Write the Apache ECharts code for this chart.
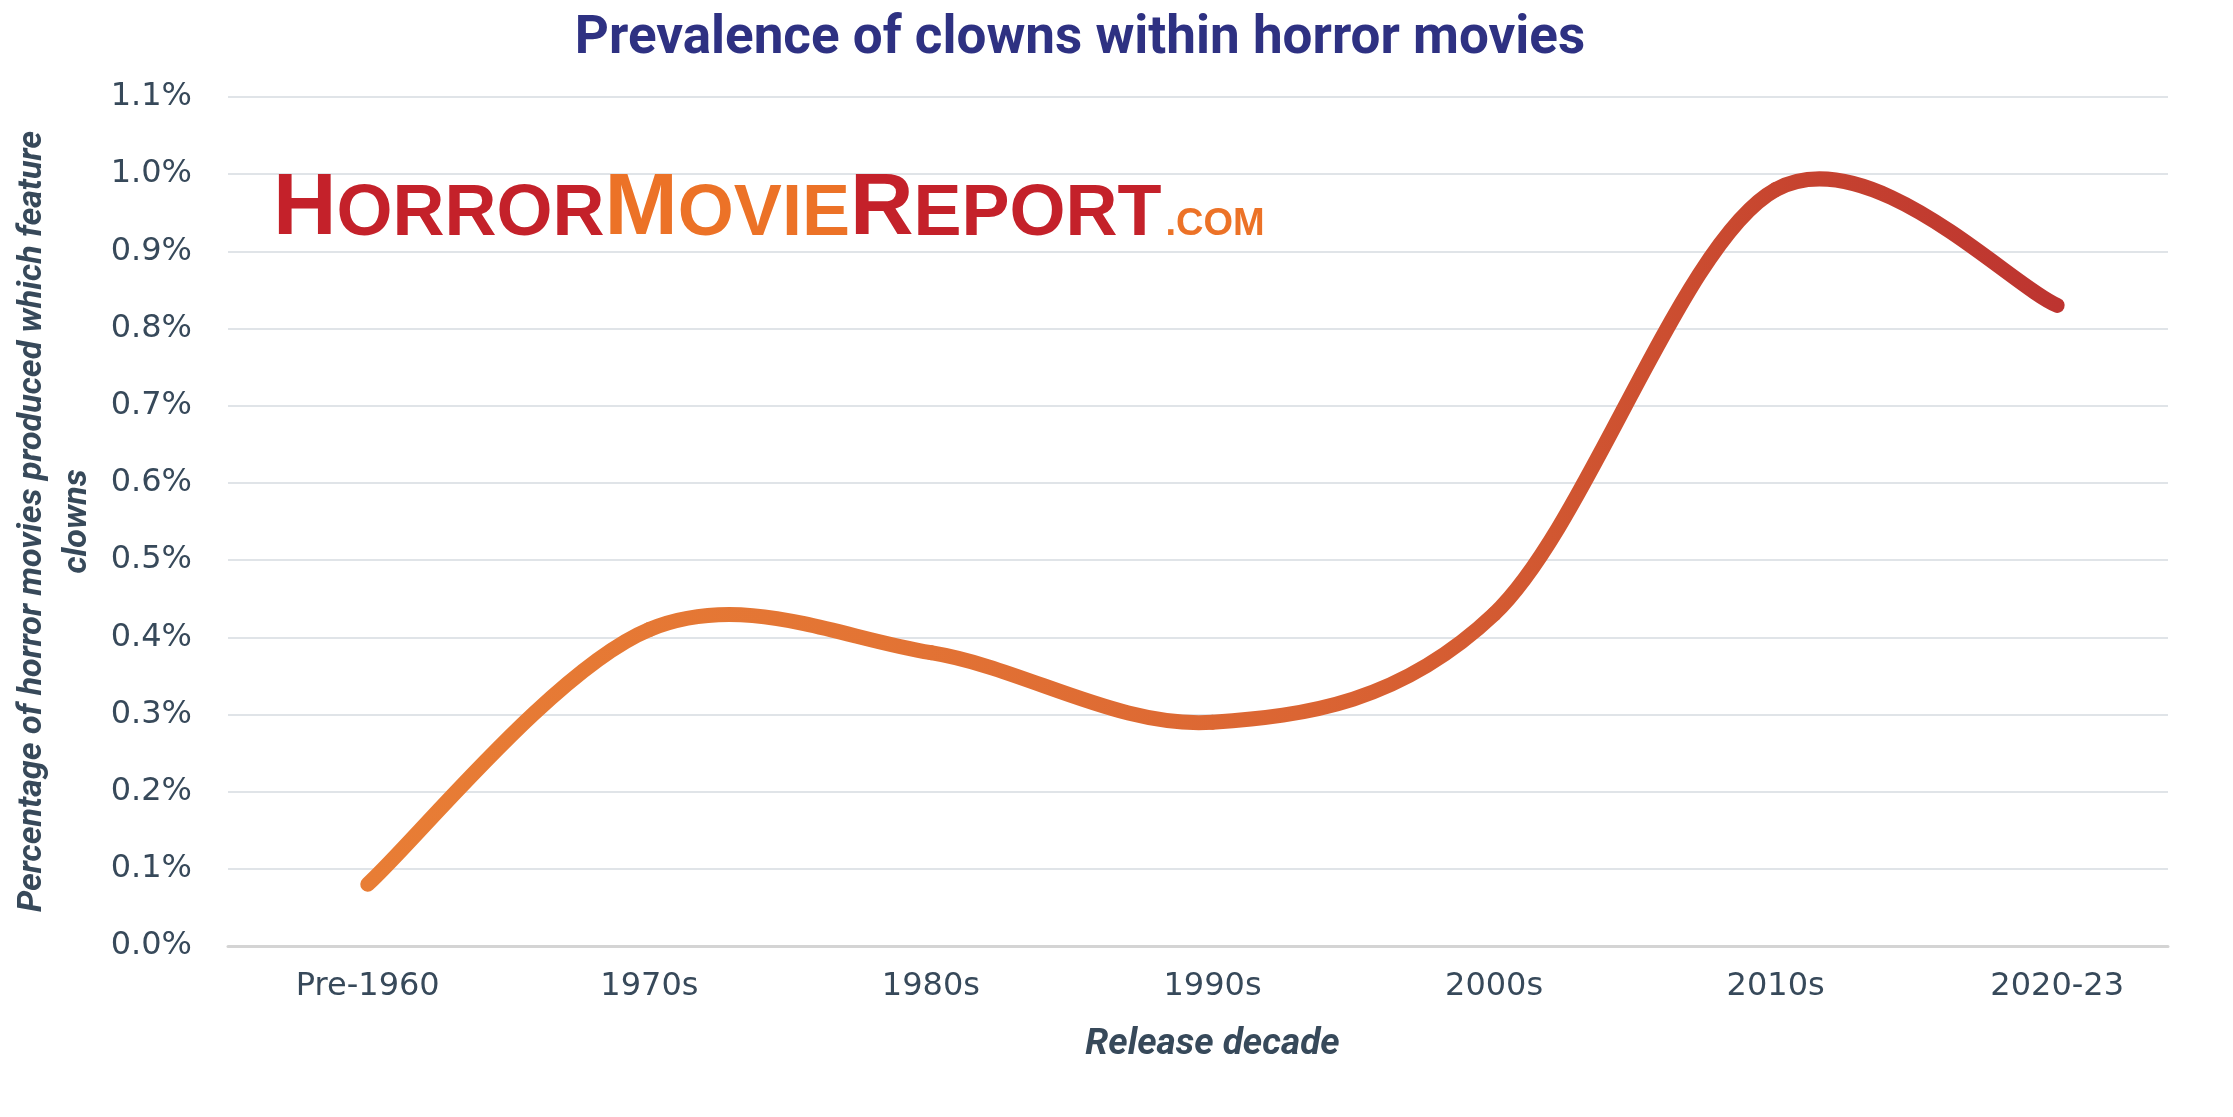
<!DOCTYPE html>
<html>
<head>
<meta charset="utf-8">
<script src="https://cdn.jsdelivr.net/npm/echarts@6/dist/echarts.min.js"></script>
<style>
html,body{margin:0;padding:0;background:#fff;}
#chart{width:2233px;height:1117px;}
</style>
</head>
<body>
<div id="chart"></div>
<script>
const categories = ['Pre-1960', '1970s', '1980s', '1990s', '2000s', '2010s', '2020-23'];
const clownShare = [0.08, 0.41, 0.38, 0.29, 0.43, 0.98, 0.83];
const yMin = 0;
const yMax = 1.1;
const yStep = 0.1;
const titleText = 'Prevalence of clowns within horror movies';
const yName = 'Percentage of horror movies produced which feature\nclowns';
const xName = 'Release decade';

const labelColor = '#37495A';
const gradientStops = [
  {offset: 0, color: '#E87D35'},
  {offset: 0.3, color: '#E37434'},
  {offset: 0.55, color: '#DB6533'},
  {offset: 0.7, color: '#D15731'},
  {offset: 0.85, color: '#C6432F'},
  {offset: 1, color: '#BD3430'}
];

const chart = echarts.init(document.getElementById('chart'), null, {renderer: 'canvas'});

// Smoothed line (Bezier through each data point, tangent = (next - prev) / 6),
// positioned through the chart's own axes via api.coord.
function renderSegment(params, api) {
  const n = clownShare.length;
  const i = params.dataIndex;
  if (i >= n - 1) return {type: 'group', children: []};
  const P = function (k) {
    const kk = Math.max(0, Math.min(n - 1, k));
    return api.coord([kk, clownShare[kk]]);
  };
  const p0 = P(i - 1), p1 = P(i), p2 = P(i + 1), p3 = P(i + 2);
  const t = 1 / 6;
  const c1 = [p1[0] + (p2[0] - p0[0]) * t, p1[1] + (p2[1] - p0[1]) * t];
  const c2 = [p2[0] - (p3[0] - p1[0]) * t, p2[1] - (p3[1] - p1[1]) * t];
  const a = api.coord([0, clownShare[0]]);
  const b = api.coord([n - 1, clownShare[n - 1]]);
  return {
    type: 'bezierCurve',
    shape: {x1: p1[0], y1: p1[1], cpx1: c1[0], cpy1: c1[1], cpx2: c2[0], cpy2: c2[1], x2: p2[0], y2: p2[1]},
    style: {
      fill: 'none',
      stroke: new echarts.graphic.LinearGradient(a[0], 0, b[0], 0, gradientStops, true),
      lineWidth: 15,
      lineCap: 'round',
      lineJoin: 'round'
    }
  };
}

const option = {
  backgroundColor: '#ffffff',
  animation: false,
  title: {
    text: titleText,
    left: 1075,
    textAlign: 'center',
    top: 8,
    textStyle: {fontFamily: 'Roboto', fontWeight: 'bold', fontSize: 53, color: '#2E3182'}
  },
  grid: [
    {left: 228, right: 65, top: 97, bottom: 171},
    {left: 227, right: 35, top: 97, bottom: 171}
  ],
  xAxis: [
    {
      gridIndex: 0, type: 'category', data: categories, boundaryGap: true,
      axisLine: {show: true, lineStyle: {color: '#D4D4D4', width: 3}},
      axisTick: {show: false}, axisLabel: {show: false}, splitLine: {show: false}
    },
    {
      gridIndex: 1, type: 'category', data: categories, boundaryGap: true,
      axisLine: {show: false}, axisTick: {show: false}, splitLine: {show: false},
      axisLabel: {margin: 25, fontFamily: 'DejaVu Sans', fontSize: 32, color: labelColor},
      name: xName, nameLocation: 'middle', nameGap: 80,
      nameTextStyle: {fontFamily: 'Roboto', fontStyle: 'italic', fontWeight: 'bold', fontSize: 37, color: labelColor}
    }
  ],
  yAxis: [
    {
      gridIndex: 0, type: 'value', min: yMin, max: yMax, interval: yStep,
      axisLine: {show: false}, axisTick: {show: false},
      splitLine: {show: true, lineStyle: {color: '#E0E4E8', width: 2}},
      axisLabel: {
        margin: 36, fontFamily: 'DejaVu Sans', fontSize: 32, color: labelColor,
        formatter: function (v) { return v.toFixed(1) + '%'; }
      },
      name: yName, nameLocation: 'middle', nameGap: 111,
      nameTextStyle: {fontFamily: 'Roboto', fontStyle: 'italic', fontWeight: 'bold', fontSize: 34, lineHeight: 45, color: labelColor, align: 'center'}
    },
    {
      gridIndex: 1, type: 'value', min: yMin, max: yMax, interval: yStep, show: false
    }
  ],
  series: [
    {
      type: 'custom', xAxisIndex: 1, yAxisIndex: 1,
      data: clownShare.map(function (v, i) { return [i, v]; }),
      encode: {x: 0, y: 1},
      renderItem: renderSegment,
      z: 5
    }
  ],
  graphic: [
    {
      type: 'text', left: 273, top: 166, z: 10,
      style: {
        text: '{rb|H}{rs|ORROR}{ob|M}{os|OVIE}{rb|R}{rs|EPORT}{oc|.COM}',
        rich: {
          rb: {fontFamily: 'Liberation Sans', fontWeight: 'bold', fontSize: 88, fill: '#C4212A', verticalAlign: 'bottom'},
          rs: {fontFamily: 'Liberation Sans', fontWeight: 'bold', fontSize: 72, fill: '#C4212A', verticalAlign: 'bottom', padding: [0, 0, 3, 0]},
          ob: {fontFamily: 'Liberation Sans', fontWeight: 'bold', fontSize: 88, fill: '#EC7227', verticalAlign: 'bottom'},
          os: {fontFamily: 'Liberation Sans', fontWeight: 'bold', fontSize: 72, fill: '#EC7227', verticalAlign: 'bottom', padding: [0, 0, 3, 0]},
          oc: {fontFamily: 'Liberation Sans', fontWeight: 'bold', fontSize: 38, fill: '#EC7227', verticalAlign: 'bottom', padding: [0, 0, 10, 4]}
        }
      }
    }
  ]
};
chart.setOption(option);
</script>
</body>
</html>
